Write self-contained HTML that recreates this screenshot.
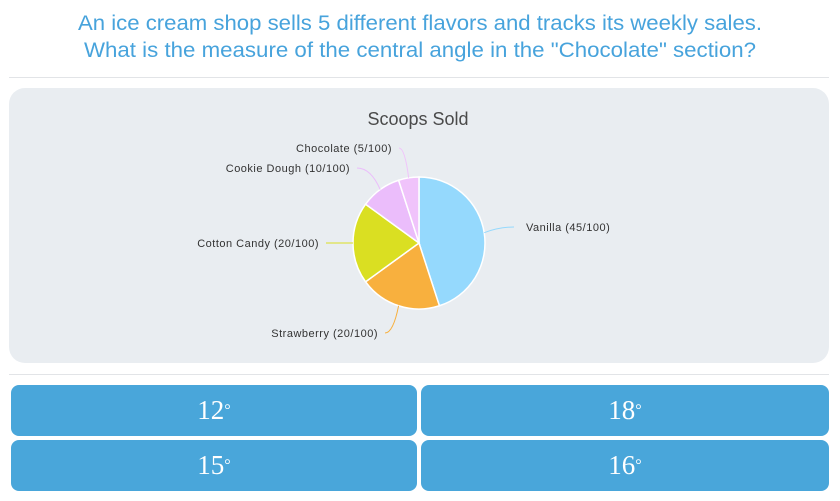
<!DOCTYPE html>
<html><head><meta charset="utf-8"><style>
body{margin:0;width:840px;height:501px;background:#fff;font-family:"Liberation Sans",sans-serif;overflow:hidden;position:relative}
.btn{position:absolute;background:#49a6da;border-radius:8px;color:#fff;font-family:"Liberation Serif",serif;font-size:27px;display:flex;align-items:center;justify-content:center}
.btn sup{font-size:16px;vertical-align:9px;line-height:0}
</style></head><body>
<svg width="840" height="501" style="position:absolute;left:0;top:0">
<text x="420" y="30" text-anchor="middle" font-size="21" fill="#47a3dc" textLength="684" lengthAdjust="spacingAndGlyphs">An ice cream shop sells 5 different flavors and tracks its weekly sales.</text>
<text x="420" y="57" text-anchor="middle" font-size="21" fill="#47a3dc" textLength="672" lengthAdjust="spacingAndGlyphs">What is the measure of the central angle in the "Chocolate" section?</text>
<line x1="9" y1="77.5" x2="829" y2="77.5" stroke="#e2e4e7"/>
<rect x="9" y="88" width="820" height="275" rx="16" fill="#e9edf1"/>
<line x1="9" y1="374.5" x2="829" y2="374.5" stroke="#e2e4e7"/>
<text x="418" y="125" text-anchor="middle" font-size="18" fill="#4a4a4a">Scoops Sold</text>
<g id="pie"></g>
</svg>
<div class="btn" style="left:11px;top:385px;width:406px;height:51px">12<sup>°</sup></div>
<div class="btn" style="left:421px;top:385px;width:408px;height:51px">18<sup>°</sup></div>
<div class="btn" style="left:11px;top:440px;width:406px;height:51px">15<sup>°</sup></div>
<div class="btn" style="left:421px;top:440px;width:408px;height:51px">16<sup>°</sup></div>
<script>
const categories=["Vanilla","Strawberry","Cotton Candy","Cookie Dough","Chocolate"];
const values=[45,20,20,10,5];
const colors=["#95d9fd","#f8b03e","#dadf22","#ebbdfb","#f0c3fb"];
const cx=419,cy=243,r=66;
const labelPos=[[526,231,"start"],[378,337,"end"],[319,247,"end"],[350,172,"end"],[392,152,"end"]];
const ns="http://www.w3.org/2000/svg";
const g=document.getElementById('pie');
const total=values.reduce((a,b)=>a+b,0);
let a0=-Math.PI/2;
values.forEach((v,i)=>{
  const a1=a0+v/total*2*Math.PI;
  const x0=cx+r*Math.cos(a0),y0=cy+r*Math.sin(a0),x1=cx+r*Math.cos(a1),y1=cy+r*Math.sin(a1);
  const p=document.createElementNS(ns,'path');
  p.setAttribute('d',`M${cx},${cy}L${x0},${y0}A${r},${r} 0 ${a1-a0>Math.PI?1:0} 1 ${x1},${y1}Z`);
  p.setAttribute('fill',colors[i]);p.setAttribute('stroke','#fff');p.setAttribute('stroke-width','1.5');
  
  
  g.appendChild(p);
  const am=(a0+a1)/2;
  const ex=cx+r*Math.cos(am),ey=cy+r*Math.sin(am);
  const [lx,ly,anc]=labelPos[i];
  const tx=anc==="start"?lx-12:lx+7, ty=ly-4;
  const l=document.createElementNS(ns,'path');
  l.setAttribute('d',`M${ex},${ey}Q${(ex+tx)/2+ (anc==="start"?0:(ex-tx)*0.1)},${ty} ${tx},${ty}`);
  l.setAttribute('fill','none');l.setAttribute('stroke',colors[i]);l.setAttribute('stroke-width','1');
  
  
  g.appendChild(l);
  const t=document.createElementNS(ns,'text');
  t.setAttribute('x',lx);t.setAttribute('y',ly);t.setAttribute('text-anchor',anc);
  t.setAttribute('font-size','11');t.setAttribute('fill','#333');t.setAttribute('letter-spacing','0.5');
  t.textContent=`${categories[i]} (${v}/${total})`;
  
  
  g.appendChild(t);
  a0=a1;
});
</script>
</body></html>
